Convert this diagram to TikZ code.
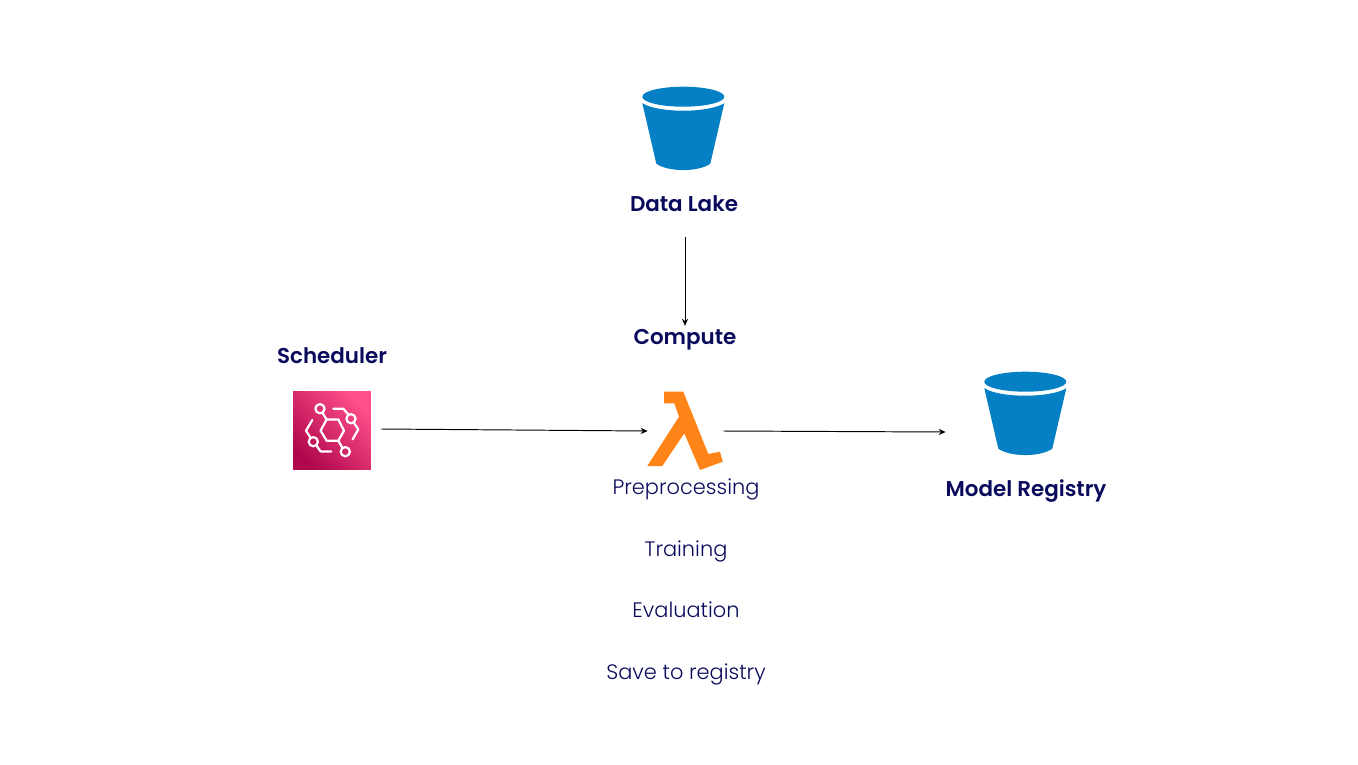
\documentclass[tikz,border=0pt]{standalone}
\usepackage{fontspec}
\setmainfont{Poppins}
\newfontface\stagefont{Poppins Light}
\newfontface\headfont{Poppins SemiBold}
\usepackage{tikz}
\usetikzlibrary{arrows.meta, positioning}
\definecolor{inkblue}{HTML}{0A0A5C}
\definecolor{bucketblue}{HTML}{0580C4}
\definecolor{lambdaorange}{HTML}{FF8418}
\definecolor{schedlight}{HTML}{FF4F8B}
\definecolor{scheddark}{HTML}{B0084D}

\tikzset{
    bucket/.pic={
        \fill[bucketblue] (0,0) ellipse [x radius=41,y radius=10];
        \fill[bucketblue] (-41,6.5) .. controls (-25,16.5) and (25,16.5) .. (41,6.5)
            -- (27,67) .. controls (15,75.5) and (-15,75.5) .. (-27,67) -- cycle;
    },
    wire/.style={draw=white,line width=1.25pt,line cap=round,line join=round},
}

\begin{document}
\begin{tikzpicture}[x=0.02cm,y=-0.02cm,>={Stealth[length=4pt,width=3.5pt]},
        headline/.style={font=\headfont\fontsize{12.2}{15}\selectfont,text=inkblue,inner sep=0pt,text height=8pt,text depth=2.5pt},
        stage/.style={font=\stagefont\fontsize{11.9}{15}\selectfont,text=inkblue,inner sep=0pt,text height=8pt,text depth=2.5pt},
        iconslot/.style={inner sep=0pt,minimum height=1.6cm},
        flow/.style={->,black,line width=0.55pt}]
    \useasboundingbox (0,0) rectangle (1358,764);

    % icons
    \pic at (683.3,96.7) {bucket};
    \pic at (1025.3,381.7) {bucket};
    \fill[lambdaorange] (664,391.7) -- (683.3,391.7) -- (708.3,454) -- (720,451.7) -- (722.7,461.7)
        -- (700,470) -- (684.3,433.3) -- (662.3,466) -- (647.3,466) -- (679,416.7) -- (674.3,403.3) -- (664,403.3) -- cycle;
    \node[minimum size=1.56cm,inner sep=0pt,top color=schedlight,bottom color=scheddark,shading angle=-45] (schedicon) at (332,430.5) {};
    \begin{scope}[shift={(332.3,430.7)},wire]
        \draw (-11.7,0) -- (-5.7,-11.3) -- (6,-11.3) -- (11.7,0) -- (6,10) -- (-5.7,10) -- cycle;
        \draw (-12.3,-22) circle (4.6);
        \draw (-5.7,-11.3) -- (-10,-18);
        \draw (18.7,-12) circle (4.6);
        \draw (1,-22) -- (11,-22) -- (16,-16.3);
        \draw (21.7,-7.7) -- (26,-1.3) -- (20.3,8.7);
        \draw (-19,11) circle (4.6);
        \draw (-20,-10.7) -- (-26.3,0) -- (-21.7,7);
        \draw (-15.7,15) -- (-11.7,20.7) -- (-1,20.7);
        \draw (13,21) circle (4.6);
        \draw (6,10) -- (10,17);
    \end{scope}

    % labels
    \node[headline] (lake) at (684,206.5) {Data Lake};
    \node[headline] (compute) at (685,340) {Compute};
    \node[headline] (scheduler) at (332,358.5) {Scheduler};
    \node[headline] (registry) at (1026,491.5) {Model Registry};
    \node[stage] (prep) at (686,490) {Preprocessing};
    \node[stage] (train) at (686,551.5) {Training};
    \node[stage] (eval) at (686,613) {Evaluation};
    \node[stage] (save) at (686,674.5) {Save to registry};

    % anchors for the arrows
    \node[iconslot,minimum width=1.96cm] (sched) at (332,429) {};
    \node[iconslot,minimum width=1.5cm] (lambda) at (685.5,431) {};
    \node[iconslot,minimum width=3.2cm] (model) at (1026,432) {};

    \draw[flow,shorten <=12pt,shorten >=2.6pt] (lake.south -| compute) -- (compute.north);
    \draw[flow] (sched.east) -- (lambda.west);
    \draw[flow] (lambda.east) -- (model.west);
\end{tikzpicture}
\end{document}
